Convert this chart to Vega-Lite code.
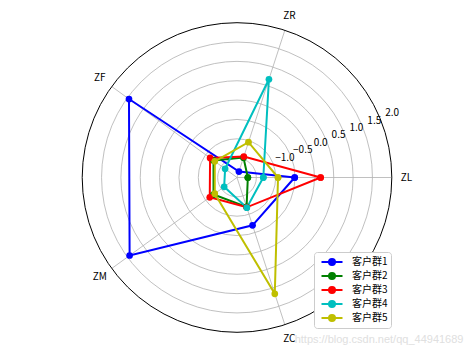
{
  "$schema": "https://vega.github.io/schema/vega-lite/v6.json",
  "width": 474,
  "height": 355,
  "autosize": {"type": "none"},
  "padding": 0,
  "background": "white",
  "config": {"view": {"stroke": null}, "font": "Noto Sans CJK SC"},
  "datasets": {
    "rings": [{"r": -1.5}, {"r": -1.0}, {"r": -0.5}, {"r": 0.0}, {"r": 0.5}, {"r": 1.0}, {"r": 1.5}],
    "ringlabels": [
      {"v": -1.0, "label": "−1.0"}, {"v": -0.5, "label": "−0.5"}, {"v": 0.0, "label": "0.0"},
      {"v": 0.5, "label": "0.5"}, {"v": 1.0, "label": "1.0"}, {"v": 1.5, "label": "1.5"}, {"v": 2.0, "label": "2.0"}
    ],
    "spine": [{"r": 2.0}],
    "axes": [{"axis": "ZL", "k": 0}, {"axis": "ZR", "k": 1}, {"axis": "ZF", "k": 2}, {"axis": "ZM", "k": 3}, {"axis": "ZC", "k": 4}],
    "spokes": [
      {"axis": "ZL", "k": 0, "value": -2}, {"axis": "ZL", "k": 0, "value": 2},
      {"axis": "ZR", "k": 1, "value": -2}, {"axis": "ZR", "k": 1, "value": 2},
      {"axis": "ZF", "k": 2, "value": -2}, {"axis": "ZF", "k": 2, "value": 2},
      {"axis": "ZM", "k": 3, "value": -2}, {"axis": "ZM", "k": 3, "value": 2},
      {"axis": "ZC", "k": 4, "value": -2}, {"axis": "ZC", "k": 4, "value": 2}
    ],
    "groups": [
      {"group": "客户群1", "axis": "ZL", "k": 0, "value": -0.51},
      {"group": "客户群1", "axis": "ZR", "k": 1, "value": -1.84},
      {"group": "客户群1", "axis": "ZF", "k": 2, "value": 1.45},
      {"group": "客户群1", "axis": "ZM", "k": 3, "value": 1.43},
      {"group": "客户群1", "axis": "ZC", "k": 4, "value": -0.70},
      {"group": "客户群1", "axis": "ZL", "k": 5, "value": -0.51},
      {"group": "客户群2", "axis": "ZL", "k": 0, "value": -1.72},
      {"group": "客户群2", "axis": "ZR", "k": 1, "value": -1.46},
      {"group": "客户群2", "axis": "ZF", "k": 2, "value": -1.25},
      {"group": "客户群2", "axis": "ZM", "k": 3, "value": -1.25},
      {"group": "客户群2", "axis": "ZC", "k": 4, "value": -1.20},
      {"group": "客户群2", "axis": "ZL", "k": 5, "value": -1.72},
      {"group": "客户群3", "axis": "ZL", "k": 0, "value": 0.16},
      {"group": "客户群3", "axis": "ZR", "k": 1, "value": -1.43},
      {"group": "客户群3", "axis": "ZF", "k": 2, "value": -1.14},
      {"group": "客户群3", "axis": "ZM", "k": 3, "value": -1.13},
      {"group": "客户群3", "axis": "ZC", "k": 4, "value": -1.19},
      {"group": "客户群3", "axis": "ZL", "k": 5, "value": 0.16},
      {"group": "客户群4", "axis": "ZL", "k": 0, "value": -1.32},
      {"group": "客户群4", "axis": "ZR", "k": 1, "value": 0.67},
      {"group": "客户群4", "axis": "ZF", "k": 2, "value": -1.62},
      {"group": "客户群4", "axis": "ZM", "k": 3, "value": -1.59},
      {"group": "客户群4", "axis": "ZC", "k": 4, "value": -1.18},
      {"group": "客户群4", "axis": "ZL", "k": 5, "value": -1.32},
      {"group": "客户群5", "axis": "ZL", "k": 0, "value": -0.94},
      {"group": "客户群5", "axis": "ZR", "k": 1, "value": -1.04},
      {"group": "客户群5", "axis": "ZF", "k": 2, "value": -1.29},
      {"group": "客户群5", "axis": "ZM", "k": 3, "value": -1.29},
      {"group": "客户群5", "axis": "ZC", "k": 4, "value": 1.16},
      {"group": "客户群5", "axis": "ZL", "k": 5, "value": -0.94}
    ],
    "watermark": [{"t": "https://blog.csdn.net/qq_44941689"}]
  },
  "layer": [
    {
      "data": {"name": "rings"},
      "transform": [{"calculate": "(datum.r + 2) * (datum.r + 2)", "as": "u2"}],
      "mark": {"type": "point", "shape": "circle", "filled": false, "color": "#b0b0b0", "strokeWidth": 0.8, "opacity": 1},
      "encoding": {
        "x": {"datum": 0, "type": "quantitative", "scale": {"domain": [-6.124, 6.124], "nice": false, "zero": false}, "axis": null},
        "y": {"datum": 0, "type": "quantitative", "scale": {"domain": [-4.587, 4.587], "nice": false, "zero": false}, "axis": null},
        "size": {"field": "u2", "type": "quantitative", "scale": {"type": "linear", "domain": [0, 16], "range": [0, 95852]}, "legend": null}
      }
    },
    {
      "data": {"name": "spokes"},
      "transform": [
        {"calculate": "datum.k * 2 * PI / 5", "as": "th"},
        {"calculate": "(datum.value + 2) * cos(datum.th)", "as": "px"},
        {"calculate": "(datum.value + 2) * sin(datum.th)", "as": "py"}
      ],
      "mark": {"type": "line", "stroke": "#b0b0b0", "strokeWidth": 0.8},
      "encoding": {
        "x": {"field": "px", "type": "quantitative"},
        "y": {"field": "py", "type": "quantitative"},
        "detail": {"field": "axis"},
        "order": {"field": "value", "type": "quantitative"}
      }
    },
    {
      "data": {"name": "spine"},
      "transform": [{"calculate": "(datum.r + 2) * (datum.r + 2)", "as": "u2"}],
      "mark": {"type": "point", "shape": "circle", "filled": false, "color": "#000000", "strokeWidth": 1, "opacity": 1},
      "encoding": {
        "x": {"datum": 0, "type": "quantitative"},
        "y": {"datum": 0, "type": "quantitative"},
        "size": {"field": "u2", "type": "quantitative", "legend": null}
      }
    },
    {
      "data": {"name": "axes"},
      "transform": [
        {"calculate": "datum.k * 2 * PI / 5", "as": "th"},
        {"calculate": "4.38 * cos(datum.th)", "as": "lx"},
        {"calculate": "4.38 * sin(datum.th)", "as": "ly"}
      ],
      "mark": {"type": "text", "fontSize": 10, "color": "#000000", "align": "center", "baseline": "middle"},
      "encoding": {
        "x": {"field": "lx", "type": "quantitative"},
        "y": {"field": "ly", "type": "quantitative"},
        "text": {"field": "axis", "type": "nominal"}
      }
    },
    {
      "data": {"name": "ringlabels"},
      "transform": [
        {"calculate": "datum.v + 2.34", "as": "u"},
        {"calculate": "datum.u * cos(PI / 8)", "as": "lx"},
        {"calculate": "datum.u * sin(PI / 8)", "as": "ly"}
      ],
      "mark": {"type": "text", "fontSize": 10, "color": "#000000", "align": "center", "baseline": "middle"},
      "encoding": {
        "x": {"field": "lx", "type": "quantitative"},
        "y": {"field": "ly", "type": "quantitative"},
        "text": {"field": "label", "type": "nominal"}
      }
    },
    {
      "data": {"name": "groups"},
      "transform": [
        {"calculate": "datum.k * 2 * PI / 5", "as": "th"},
        {"calculate": "(datum.value + 2) * cos(datum.th)", "as": "px"},
        {"calculate": "(datum.value + 2) * sin(datum.th)", "as": "py"}
      ],
      "mark": {"type": "line", "strokeWidth": 2, "point": {"filled": true, "size": 45, "opacity": 1}},
      "encoding": {
        "x": {"field": "px", "type": "quantitative"},
        "y": {"field": "py", "type": "quantitative"},
        "order": {"field": "k", "type": "quantitative"},
        "color": {
          "field": "group", "type": "nominal",
          "scale": {"domain": ["客户群1", "客户群2", "客户群3", "客户群4", "客户群5"], "range": ["#0000ff", "#008000", "#ff0000", "#00bfbf", "#bfbf00"]},
          "legend": {
            "title": null,
            "orient": "none",
            "legendX": 314,
            "legendY": 252,
            "symbolType": "M-1.75,0H1.75M-0.5,0A0.5,0.5,0,1,0,0.5,0A0.5,0.5,0,1,0,-0.5,0",
            "symbolSize": 144,
            "symbolStrokeWidth": 2,
            "symbolOffset": 8,
            "labelOffset": 13,
            "labelFontSize": 10,
            "labelColor": "#000000",
            "labelFont": "Noto Sans CJK SC",
            "padding": 3,
            "rowPadding": 0,
            "fillColor": "#ffffff",
            "strokeColor": "#cccccc",
            "cornerRadius": 3
          }
        }
      }
    },
    {
      "data": {"name": "watermark"},
      "mark": {"type": "text", "fontSize": 11, "color": "#e0e0e0", "align": "left", "baseline": "middle", "font": "Liberation Sans"},
      "encoding": {
        "x": {"datum": 1.49, "type": "quantitative"},
        "y": {"datum": -4.2, "type": "quantitative"},
        "text": {"field": "t", "type": "nominal"}
      }
    }
  ]
}
